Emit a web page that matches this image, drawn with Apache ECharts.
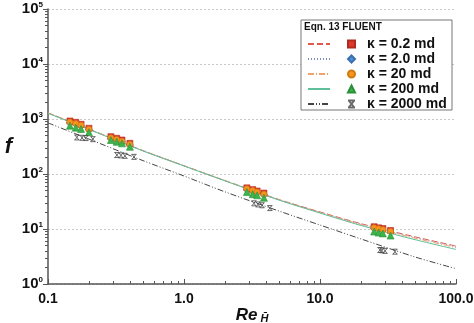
<!DOCTYPE html>
<html><head><meta charset="utf-8">
<script src="https://cdn.jsdelivr.net/npm/echarts@6/dist/echarts.min.js"></script>
<style>html,body{margin:0;padding:0;background:#fff}#c{width:474px;height:323px}</style>
</head><body><div id="c"></div>
<script>
// ---- data ----
var lineRe = [0.1, 0.2, 0.5, 1, 2, 5, 10, 20, 50, 100];
var eqn_02   = [1290, 654, 266, 141, 76, 34.3, 20.4, 12.5, 7.2, 4.9];
var eqn_2    = [1290, 654, 266, 141, 76, 34.2, 20.2, 12.3, 7.0, 4.75];
var eqn_20   = [1290, 654, 266, 141, 76, 34.0, 20.0, 12.1, 6.8, 4.6];
var eqn_200  = [1270, 645, 262, 140, 75, 33.5, 19.5, 11.6, 6.4, 4.25];
var eqn_2000 = [850, 431, 175, 92, 47.4, 21.2, 11.8, 6.6, 3.1, 1.9];

var ptRe = [0.145, 0.16, 0.175, 0.2, 0.29, 0.32, 0.35, 0.4, 2.9, 3.2, 3.45, 3.87, 25, 27, 29, 33];
var fl_02  = [920, 871, 801, 678, 477, 446, 415, 361, 56, 52, 49, 45, 11.0, 10.5, 10.2, 9.4];
var fl_2   = [850, 800, 740, 640, 440, 410, 385, 335, 52, 48, 46, 42, 10.2, 9.8, 9.5, 8.8];
var fl_20  = [880, 830, 770, 650, 455, 425, 395, 345, 54, 50, 47, 43, 10.5, 10.1, 9.7, 9.0];
var fl_200 = [755, 695, 658, 573, 415, 386, 361, 313, 47, 43, 41, 37, 9.0, 8.6, 8.3, 7.6];
var ptRe2000 = [0.163, 0.178, 0.19, 0.214, 0.321, 0.344, 0.368, 0.429, 3.27, 3.5, 3.75, 4.28, 27.6, 28.5, 30.1, 35.6];
var fl_2000  = [462, 455, 450, 430, 221, 218, 214, 205, 29.3, 28, 27, 24, 4.15, 4.1, 4.0, 3.87];

var legendNames = ['κ = 0.2 md', 'κ = 2.0 md', 'κ = 20 md', 'κ = 200 md', 'κ = 2000 md'];
var xTickLabels = {0.1: '0.1', 1: '1.0', 10: '10.0', 100: '100.0'};
var xMinorTicks = [0.2,0.3,0.4,0.5,0.6,0.7,0.8,0.9,2,3,4,5,6,7,8,9,20,30,40,50,60,70,80,90];
var yMinorTicks = [2,3,4,5,6,7,8,9,20,30,40,50,60,70,80,90,200,300,400,500,600,700,800,900,
  2000,3000,4000,5000,6000,7000,8000,9000,20000,30000,40000,50000,60000,70000,80000,90000];

function pairs(xs, ys) { return xs.map(function (x, i) { return [x, ys[i]]; }); }

var FONT = 'Arial, "Liberation Sans", sans-serif';
var AX = '#555';

var chart = echarts.init(document.getElementById('c'), null, {renderer: 'canvas'});

function lineSeries(name, data, color, type, width) {
  return {type: 'line', name: name, data: pairs(lineRe, data), symbol: 'none', smooth: 0.3,
    xAxisIndex: 0, yAxisIndex: 0,
    lineStyle: {color: color, width: width || 1, type: type}, itemStyle: {color: color}, z: 2, silent: true};
}
function ptSeries(name, xs, ys, symbol, color, border, size) {
  return {type: 'scatter', name: name, data: pairs(xs, ys), symbol: symbol, symbolSize: size || 6,
    xAxisIndex: 0, yAxisIndex: 0,
    itemStyle: {color: color, borderColor: border, borderWidth: 0.6, opacity: 1}, z: 3};
}

var xSym = 'path://M0,0 L10,0 M0,10 L10,10 M1,0 L9,10 M9,0 L1,10';

var option = {
  animation: false,
  backgroundColor: '#fff',
  grid: {left: 48, right: 18, top: 9, bottom: 39, outerBoundsMode: 'none', containLabel: false},
  graphic: [
    {type: 'rect', shape: {x: 301, y: 20, width: 151, height: 90},
     style: {fill: '#fff', stroke: '#777', lineWidth: 1}, z: 10},
    {type: 'text', left: 304, top: 22, z: 11,
     style: {text: 'Eqn. 13 FLUENT', font: 'bold 10px ' + FONT, fill: '#111'}}
  ],
  legend: [
    {data: ['l0', 'l1', 'l2', 'l3', 'l4'], orient: 'vertical', left: 307, top: 37, z: 12, padding: 0,
     itemWidth: 22, itemHeight: 8, itemGap: 1, formatter: function () { return ' '; },
     itemStyle: {color: 'rgba(0,0,0,0)', borderWidth: 0, opacity: 0},
     textStyle: {fontSize: 14, lineHeight: 14}, selectedMode: false},
    {data: legendNames, orient: 'vertical', left: 347, top: 37, z: 12, padding: 0,
     itemWidth: 7, itemHeight: 7, itemGap: 1,
     textStyle: {fontSize: 14, lineHeight: 14, fontWeight: 'bold', fontFamily: FONT, color: '#111', padding: [0, 0, 0, 7]},
     selectedMode: false}
  ],
  xAxis: [
    {type: 'log', logBase: 10, min: 0.1, max: 100, gridIndex: 0,
     name: '{r|Re}{h|H\u0304}', nameLocation: 'middle', nameGap: 22, nameMoveOverlap: false,
     nameTextStyle: {rich: {
       r: {fontSize: 17, fontWeight: 'bold', fontStyle: 'italic', fontFamily: FONT, color: '#111'},
       h: {fontSize: 11, fontWeight: 'bold', fontStyle: 'italic', fontFamily: FONT, color: '#111', padding: [7, 0, 0, 3]}
     }},
     axisLine: {lineStyle: {color: AX, width: 1.5}},
     axisTick: {inside: true, length: 5, lineStyle: {color: AX, width: 1}},
     axisLabel: {margin: 8, fontSize: 14, fontWeight: 'bold', fontFamily: FONT, color: '#111',
       formatter: function (v) { var k = +v.toPrecision(3); return xTickLabels[k] || ''; }},
     splitLine: {show: false}},
    {type: 'log', logBase: 10, min: 0.1, max: 100, gridIndex: 0, position: 'bottom',
     axisLine: {show: false}, axisLabel: {show: false}, splitLine: {show: false},
     axisTick: {show: true, inside: true, length: 3, customValues: xMinorTicks, lineStyle: {color: AX, width: 1}}}
  ],
  yAxis: [
    {type: 'log', logBase: 10, min: 1, max: 100000, gridIndex: 0,
     name: 'f', nameLocation: 'middle', nameGap: 36, nameRotate: 0, nameMoveOverlap: false,
     nameTextStyle: {fontSize: 22, fontWeight: 'bold', fontStyle: 'italic', fontFamily: FONT, color: '#111', padding: [0, 0, 12, 0]},
     axisLine: {show: true, lineStyle: {color: AX, width: 1.5}},
     axisTick: {show: true, length: 5, lineStyle: {color: AX, width: 1}},
     axisLabel: {margin: 5, fontFamily: FONT, color: '#111',
       formatter: function (v) { return '{b|10}{s|' + Math.round(Math.log10(v)) + '}'; },
       rich: {b: {fontSize: 15, fontWeight: 'bold', fontFamily: FONT, color: '#111'},
              s: {fontSize: 8, fontWeight: 'bold', fontFamily: FONT, color: '#111', padding: [0, 0, 9, 0]}}},
     splitLine: {show: true, lineStyle: {color: '#c8c8c8', type: [2, 2], width: 1}}},
    {type: 'log', logBase: 10, min: 1, max: 100000, gridIndex: 0, position: 'left',
     axisLine: {show: false}, axisLabel: {show: false}, splitLine: {show: false},
     axisTick: {show: true, length: 3, customValues: yMinorTicks, lineStyle: {color: AX, width: 1}}}
  ],
  series: [
    lineSeries('l0', eqn_02, '#e0584a', [6, 3]),
    lineSeries('l1', eqn_2, '#7f8fc4', [1, 2]),
    lineSeries('l2', eqn_20, '#f0a26a', [6, 2, 1, 2]),
    lineSeries('l3', eqn_200, '#5fbf9a', 'solid'),
    lineSeries('l4', eqn_2000, '#454545', [6, 2, 1, 2, 1, 2]),
    ptSeries(legendNames[1], ptRe, fl_2, 'diamond', '#4f8fd8', '#3a70b0', 7),
    ptSeries(legendNames[0], ptRe, fl_02, 'rect', '#e0392b', '#b02a1e', 6),
    ptSeries(legendNames[2], ptRe, fl_20, 'circle', '#f7941d', '#d07a10', 6),
    ptSeries(legendNames[3], ptRe, fl_200, 'triangle', '#3cb44b', '#2a9038', 7),
    {type: 'scatter', name: legendNames[4], data: pairs(ptRe2000, fl_2000), symbol: xSym, symbolSize: 5,
     itemStyle: {color: 'rgba(0,0,0,0)', borderColor: '#444', borderWidth: 1}, z: 3}
  ]
};
chart.setOption(option);
</script></body></html>
